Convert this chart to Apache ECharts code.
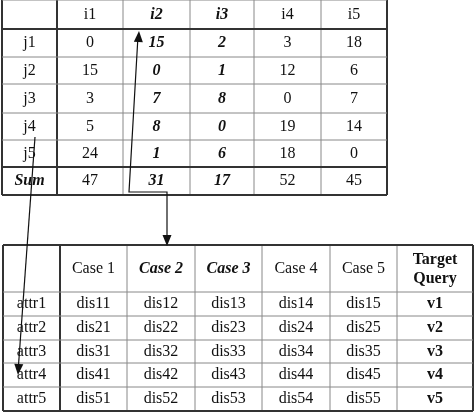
<!DOCTYPE html>
<html>
<head>
<meta charset="utf-8">
<script src="https://cdn.jsdelivr.net/npm/echarts@6/dist/echarts.min.js"></script>
<style>html,body{margin:0;padding:0;background:#fff}#main{width:474px;height:414px}</style>
</head>
<body>
<div id="main"></div>
<script>
// Tabelle oben
const topCols = ['i1', 'i2', 'i3', 'i4', 'i5'];
const topRows = ['j1', 'j2', 'j3', 'j4', 'j5', 'Sum'];
const topValues = [
  [0, 15, 2, 3, 18],
  [15, 0, 1, 12, 6],
  [3, 7, 8, 0, 7],
  [5, 8, 0, 19, 14],
  [24, 1, 6, 18, 0],
  [47, 31, 17, 52, 45]
];
// Tabelle unten
const botCols = ['Case 1', 'Case 2', 'Case 3', 'Case 4', 'Case 5', 'Target\nQuery'];
const botRows = ['attr1', 'attr2', 'attr3', 'attr4', 'attr5'];
const botValues = [
  ['dis11', 'dis12', 'dis13', 'dis14', 'dis15', 'v1'],
  ['dis21', 'dis22', 'dis23', 'dis24', 'dis25', 'v2'],
  ['dis31', 'dis32', 'dis33', 'dis34', 'dis35', 'v3'],
  ['dis41', 'dis42', 'dis43', 'dis44', 'dis45', 'v4'],
  ['dis51', 'dis52', 'dis53', 'dis54', 'dis55', 'v5']
];

const FONT = '"Liberation Serif", "DejaVu Serif", serif';
const topX = [2, 57, 123, 190, 254, 321, 387];
const topY = [0, 29, 57, 84, 113, 140, 167, 195];
const botX = [3, 60, 127, 195, 262, 330, 397, 473];
const botY = [245, 292, 316, 340, 363, 387, 411];

const elements = [];

function line(x1, y1, x2, y2, w, c) {
  elements.push({ type: 'line', shape: { x1, y1, x2, y2 }, style: { stroke: c || '#888', lineWidth: w || 1 } });
}
function text(str, cx, cy, size, weight, italic) {
  elements.push({
    type: 'text', x: cx, y: cy,
    style: {
      text: str, fill: '#111', font: (italic ? 'italic ' : '') + (weight || 'normal') + ' ' + size + 'px ' + FONT,
      align: 'center', verticalAlign: 'middle', lineHeight: size + 3
    }
  });
}

// Gitter oben
const thickTopX = [0, 1, topX.length - 1];
topX.forEach((x, i) => line(x, 0, x, 195, thickTopX.includes(i) ? 2 : 1, thickTopX.includes(i) ? '#333' : '#888'));
topY.forEach((y, i) => line(2, y, 387, y, (i === 1 || i === 6 || i === 7) ? 2 : 1, (i === 1 || i === 6 || i === 7) ? '#333' : '#888'));
topCols.forEach((c, i) => text(c, (topX[i + 1] + topX[i + 2]) / 2, 15, 16, (i === 1 || i === 2) ? 'bold' : 'normal', i === 1 || i === 2));
topRows.forEach((r, j) => {
  const cy = (topY[j + 1] + topY[j + 2]) / 2;
  const isSum = r === 'Sum';
  text(r, (topX[0] + topX[1]) / 2, cy, 16, isSum ? 'bold' : 'normal', isSum);
  topValues[j].forEach((v, i) => {
    const em = i === 1 || i === 2;
    text(String(v), (topX[i + 1] + topX[i + 2]) / 2, cy, 16, em ? 'bold' : 'normal', em);
  });
});

// Gitter unten
const thickBotX = [0, 1, botX.length - 1];
botX.forEach((x, i) => line(x, 245, x, 411, thickBotX.includes(i) ? 2 : 1, thickBotX.includes(i) ? '#333' : '#888'));
botY.forEach((y, i) => line(3, y, 473, y, (i === 0 || i === 6) ? 2 : 1, (i === 0 || i === 6) ? '#333' : '#888'));
botCols.forEach((c, i) => {
  const em = i === 1 || i === 2;
  text(c, (botX[i + 1] + botX[i + 2]) / 2, 269, 16, (em || i === 5) ? 'bold' : 'normal', em);
});
botRows.forEach((r, j) => {
  const cy = (botY[j + 1] + botY[j + 2]) / 2;
  text(r, (botX[0] + botX[1]) / 2, cy, 16);
  botValues[j].forEach((v, i) => text(v, (botX[i + 1] + botX[i + 2]) / 2, cy, 16, i === 5 ? 'bold' : 'normal'));
});

// Pfeile
function arrowHead(x, y, dx, dy) {
  const len = Math.hypot(dx, dy), ux = dx / len, uy = dy / len;
  const px = -uy, py = ux, L = 11, W = 4.5;
  elements.push({
    type: 'polygon',
    shape: { points: [[x, y], [x - ux * L + px * W, y - uy * L + py * W], [x - ux * L - px * W, y - uy * L - py * W]] },
    style: { fill: '#111' }
  });
}
elements.push({ type: 'polyline', shape: { points: [[35, 137], [18, 372]] }, style: { stroke: '#111', lineWidth: 1.2, fill: null } });
arrowHead(18, 375, -17, 235);
elements.push({ type: 'polyline', shape: { points: [[138, 36], [129, 192], [167, 192], [167, 240]] }, style: { stroke: '#111', lineWidth: 1.2, fill: null } });
arrowHead(139, 31, 9, -156);
arrowHead(167, 246, 0, 1);

const chart = echarts.init(document.getElementById('main'));
chart.setOption({ animation: false, graphic: { elements } });
</script>
</body>
</html>
